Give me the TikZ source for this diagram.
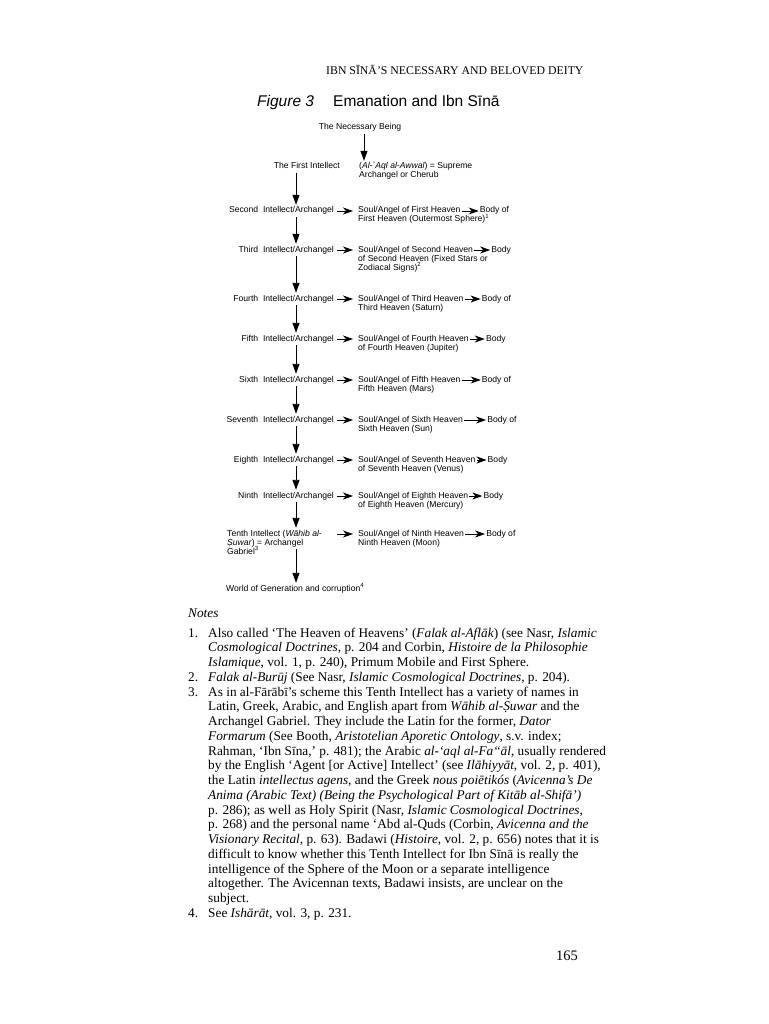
\documentclass[tikz,border=0pt]{standalone}
\usepackage{fontspec}
\setmainfont{Liberation Serif}
\newfontfamily\diag{Liberation Sans}
\usetikzlibrary{arrows.meta}
\newcommand\udot[1]{\leavevmode\setbox0\hbox{#1}\rlap{\hbox to\wd0{\hss\raisebox{-0.3ex}[0pt][0pt]{\rule{0.1em}{0.1em}}\hss}}#1}
\newcommand\Sd{\iffontchar\font"1E62 \char"1E62 \else\udot{S}\fi}
\begin{document}
\begin{tikzpicture}[x=1pt,y=-1pt,
  dg/.style={font=\diag\fontsize{8.6}{9}\selectfont, inner sep=0pt, text height=6pt, text depth=2pt},
  varrow/.style={line width=0.9pt, -{Triangle[length=10pt,width=7pt]}, shorten <=2pt, shorten >=2pt},
  harrow/.style={line width=0.9pt, -{Stealth[length=10pt,width=7pt,inset=3pt]}},
  note/.style={anchor=base west, inner sep=0pt, font=\fontsize{13.3}{15}\selectfont},
]
\useasboundingbox (0,0) rectangle (768,1024);
\fill[white] (0,0) rectangle (768,1024);

% header and title
\node[anchor=base west, inner sep=0pt, font=\fontsize{11.8}{14}\selectfont] (hdr) at (326,75) {IBN SĪNĀ'S NECESSARY AND BELOVED DEITY};
\node[anchor=base west, inner sep=0pt, font=\diag\itshape\fontsize{15.5}{18}\selectfont] (fig) at (257,107) {Figure 3};
\node[anchor=base west, inner sep=0pt, font=\diag\fontsize{15.5}{18}\selectfont] (ttl) at (333,107) {Emanation and Ibn Sīnā};

% diagram
\coordinate (col) at (296,0);
\node[dg] (nb) at (360,128) {The Necessary Being};
\coordinate (nbx) at (364,0);
\node[dg, anchor=east] (l1) at (340,167) {The First Intellect};
\node[dg, anchor=west] (a1) at (359,167) {(\textit{Al-`Aql al-Awwal}) = Supreme};
\node[dg, anchor=west] (a1b) at (359,176) {Archangel or Cherub};
\draw[varrow] (nb.south -| nbx) -- (a1.north -| nbx);

% row 2
\node[dg, anchor=east] (l2) at (334,211) {Second\ \ Intellect/Archangel};
\node[dg, anchor=west] (s2) at (358,211) {Soul/Angel of First Heaven};
\node[dg, anchor=west] (b2) at ([xshift=19pt]s2.east) {Body of};
\node[dg, anchor=west] (c2) at (358,220) {First Heaven (Outermost Sphere)\textsuperscript{1}};
% row 3
\node[dg, anchor=east] (l3) at (334,250) {Third\ \ Intellect/Archangel};
\node[dg, anchor=west] (s3) at (358,250) {Soul/Angel of Second Heaven};
\node[dg, anchor=west] (b3) at ([xshift=18pt]s3.east) {Body};
\node[dg, anchor=west] (c3) at (358,259) {of Second Heaven (Fixed Stars or};
\node[dg, anchor=west] (d3) at (358,268) {Zodiacal Signs)\textsuperscript{2}};
% row 4
\node[dg, anchor=east] (l4) at (334,299) {Fourth\ \ Intellect/Archangel};
\node[dg, anchor=west] (s4) at (358,299) {Soul/Angel of Third Heaven};
\node[dg, anchor=west] (b4) at ([xshift=18pt]s4.east) {Body of};
\node[dg, anchor=west] (c4) at (358,308) {Third Heaven (Saturn)};
% row 5
\node[dg, anchor=east] (l5) at (334,339) {Fifth\ \ Intellect/Archangel};
\node[dg, anchor=west] (s5) at (358,339) {Soul/Angel of Fourth Heaven};
\node[dg, anchor=west] (b5) at ([xshift=17pt]s5.east) {Body};
\node[dg, anchor=west] (c5) at (358,348) {of Fourth Heaven (Jupiter)};
% row 6
\node[dg, anchor=east] (l6) at (334,380) {Sixth\ \ Intellect/Archangel};
\node[dg, anchor=west] (s6) at (358,380) {Soul/Angel of Fifth Heaven};
\node[dg, anchor=west] (b6) at ([xshift=21pt]s6.east) {Body of};
\node[dg, anchor=west] (c6) at (358,389) {Fifth Heaven (Mars)};
% row 7
\node[dg, anchor=east] (l7) at (334,420) {Seventh\ \ Intellect/Archangel};
\node[dg, anchor=west] (s7) at (358,420) {Soul/Angel of Sixth Heaven};
\node[dg, anchor=west] (b7) at ([xshift=24pt]s7.east) {Body of};
\node[dg, anchor=west] (c7) at (358,429) {Sixth Heaven (Sun)};
% row 8
\node[dg, anchor=east] (l8) at (334,460) {Eighth\ \ Intellect/Archangel};
\node[dg, anchor=west] (s8) at (358,460) {Soul/Angel of Seventh Heaven};
\node[dg, anchor=west] (b8) at ([xshift=12pt]s8.east) {Body};
\node[dg, anchor=west] (c8) at (358,469) {of Seventh Heaven (Venus)};
% row 9
\node[dg, anchor=east] (l9) at (334,496) {Ninth\ \ Intellect/Archangel};
\node[dg, anchor=west] (s9) at (358,496) {Soul/Angel of Eighth Heaven};
\node[dg, anchor=west] (b9) at ([xshift=15pt]s9.east) {Body};
\node[dg, anchor=west] (c9) at (358,505) {of Eighth Heaven (Mercury)};
% row 10
\node[dg, anchor=west] (l10) at (227,534) {Tenth Intellect (\textit{Wāhib al-}};
\node[dg, anchor=west] (l10b) at (227,543) {\textit{\Sd uwar}) = Archangel};
\node[dg, anchor=west] (l10c) at (227,552) {Gabriel\textsuperscript{3}};
\node[dg, anchor=west] (s10) at (358,534) {Soul/Angel of Ninth Heaven};
\node[dg, anchor=west] (b10) at ([xshift=22pt]s10.east) {Body of};
\node[dg, anchor=west] (c10) at (358,543) {Ninth Heaven (Moon)};
% world
\node[dg, anchor=west] (w) at (226,589) {World of Generation and corruption\textsuperscript{4}};

% vertical connectors
\draw[varrow] (l1.south -| col) -- (l2.north -| col);
\draw[varrow] (l2.south -| col) -- (l3.north -| col);
\draw[varrow] (l3.south -| col) -- (l4.north -| col);
\draw[varrow] (l4.south -| col) -- (l5.north -| col);
\draw[varrow] (l5.south -| col) -- (l6.north -| col);
\draw[varrow] (l6.south -| col) -- (l7.north -| col);
\draw[varrow] (l7.south -| col) -- (l8.north -| col);
\draw[varrow] (l8.south -| col) -- (l9.north -| col);
\draw[varrow] (l9.south -| col) -- (l10.north -| col);
\draw[varrow] (l10b.south -| col) -- (w.north -| col);

% horizontal connectors
\foreach \i in {2,...,9}{
  \draw[harrow] ([xshift=3pt]l\i.east) -- ([xshift=-5pt]s\i.west);
}
\draw[harrow] ([xshift=3pt]l10.east -| l9.east) -- ([xshift=-5pt]s10.west);
\foreach \i in {2,...,10}{
  \draw[harrow] ([xshift=1pt]s\i.east) -- ([xshift=-1pt]b\i.west);
}

% notes
\node[note, font=\itshape\fontsize{13.3}{15}\selectfont] (notes) at (188,617) {Notes};
\node[note] (m1) at (188,637) {1.};
\node[note] (n0) at (208,637) {Also called `The Heaven of Heavens' (\textit{Falak al-Aflāk}) (see Nasr, \textit{Islamic}};
\node[note] (n1) at (208,651.75) {\textit{Cosmological Doctrines}, p. 204 and Corbin, \textit{Histoire de la Philosophie}};
\node[note] (n2) at (208,666.5) {\textit{Islamique}, vol. 1, p. 240), Primum Mobile and First Sphere.};
\node[note] (m2) at (188,681.25) {2.};
\node[note] (n3) at (208,681.25) {\textit{Falak al-Burūj} (See Nasr, \textit{Islamic Cosmological Doctrines}, p. 204).};
\node[note] (m3) at (188,696) {3.};
\node[note] (n4) at (208,696) {As in al-Fārābī's scheme this Tenth Intellect has a variety of names in};
\node[note] (n5) at (208,710.75) {Latin, Greek, Arabic, and English apart from \textit{Wāhib al-\Sd uwar} and the};
\node[note] (n6) at (208,725.5) {Archangel Gabriel. They include the Latin for the former, \textit{Dator}};
\node[note] (n7) at (208,740.25) {\textit{Formarum} (See Booth, \textit{Aristotelian Aporetic Ontology}, s.v. index;};
\node[note] (n8) at (208,755) {Rahman, `Ibn Sīna,' p. 481); the Arabic \textit{al-`aql al-Fa``āl}, usually rendered};
\node[note] (n9) at (208,769.75) {by the English `Agent [or Active] Intellect' (see \textit{Ilāhiyyāt}, vol. 2, p. 401),};
\node[note] (n10) at (208,784.5) {the Latin \textit{intellectus agens}, and the Greek \textit{nous poiētikós} (\textit{Avicenna's De}};
\node[note] (n11) at (208,799.25) {\textit{Anima (Arabic Text) (Being the Psychological Part of Kitāb al-Shifā')}};
\node[note] (n12) at (208,814) {p. 286); as well as Holy Spirit (Nasr, \textit{Islamic Cosmological Doctrines},};
\node[note] (n13) at (208,828.75) {p. 268) and the personal name `Abd al-Quds (Corbin, \textit{Avicenna and the}};
\node[note] (n14) at (208,843.5) {\textit{Visionary Recital}, p. 63). Badawi (\textit{Histoire}, vol. 2, p. 656) notes that it is};
\node[note] (n15) at (208,858.25) {difficult to know whether this Tenth Intellect for Ibn Sīnā is really the};
\node[note] (n16) at (208,873) {intelligence of the Sphere of the Moon or a separate intelligence};
\node[note] (n17) at (208,887.75) {altogether. The Avicennan texts, Badawi insists, are unclear on the};
\node[note] (n18) at (208,902.5) {subject.};
\node[note] (m4) at (188,917.25) {4.};
\node[note] (n19) at (208,917.25) {See \textit{Ishārāt}, vol. 3, p. 231.};

% page number
\node[anchor=base west, inner sep=0pt, font=\fontsize{14.5}{17}\selectfont] (pg) at (556,960) {165};
\end{tikzpicture}
\end{document}
